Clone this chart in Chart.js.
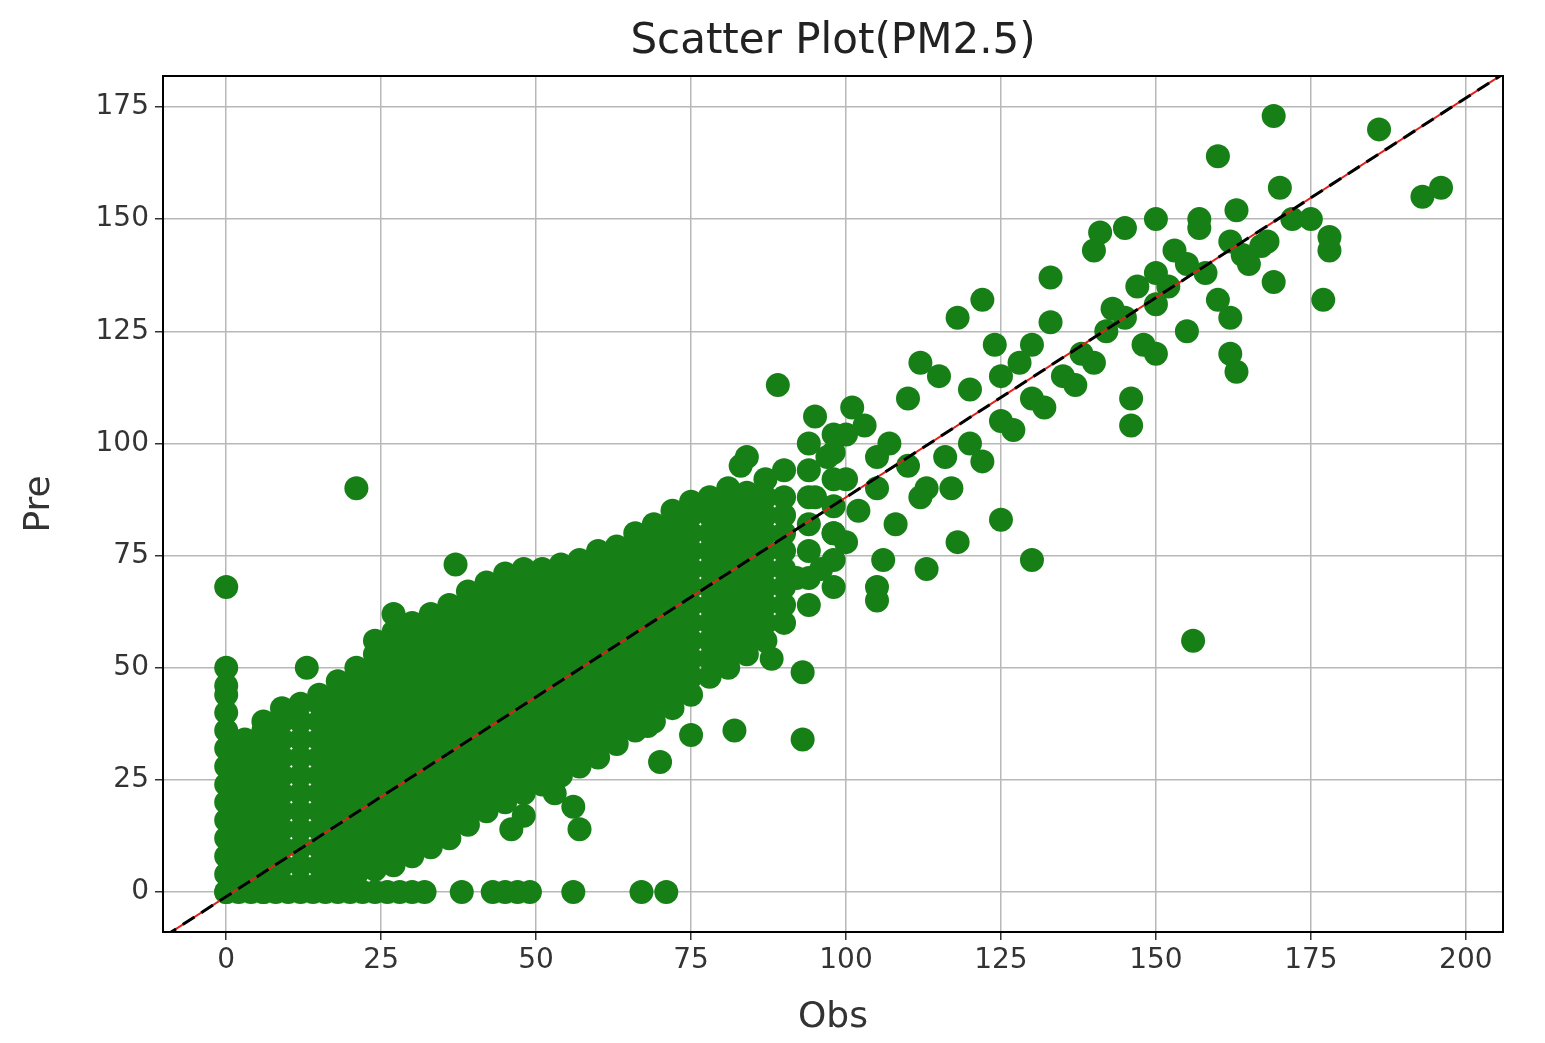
<!DOCTYPE html>
<html><head><meta charset="utf-8">
<script src="https://cdn.jsdelivr.net/npm/chart.js@4/dist/chart.umd.min.js"></script>
<style>html,body{margin:0;padding:0;background:#fff}#w{width:1545px;height:1043px}</style>
</head><body><div id="w"><canvas id="c"></canvas></div>
<script>
const bandX = [0,3,6,9,12,15,18,21,24,27,30,33,36,39,42,45,48,51,54,57,60,63,66,69,72,75,78,81,84,87,90,94,98];
const bandY = [
[0,4,8,12,16,20,24,28,32,36,40,44,46,50,68],
[2,6,10,14,18,22,26,30,34],
[0,4,8,12,16,20,24,28,32,36,38],
[2,6,10,14,18,22,26,30,34,38,41],
[2,6,10,14,18,22,26,30,34,38,42],
[2,6,10,14,18,22,26,30,34,38,42,44],
[3,7,11,15,19,23,27,31,35,39,43,47],
[4,8,12,16,20,24,28,32,36,40,44,48,50],
[5,9,13,17,21,25,29,33,37,41,45,49,53,56],
[6,10,14,18,22,26,30,34,38,42,46,50,54,58],
[8,12,16,20,24,28,32,36,40,44,48,52,56,60],
[10,14,18,22,26,30,34,38,42,46,50,54,58,62],
[12,16,20,24,28,32,36,40,44,48,52,56,60,64],
[15,19,23,27,31,35,39,43,47,51,55,59,63,67],
[18,22,26,30,34,38,42,46,50,54,58,62,66,69],
[20,24,28,32,36,40,44,48,52,56,60,64,68,71],
[22,26,30,34,38,42,46,50,54,58,62,66,70,72],
[24,28,32,36,40,44,48,52,56,60,64,68,72],
[26,30,34,38,42,46,50,54,58,62,66,70,73],
[28,32,36,40,44,48,52,56,60,64,68,72,74],
[30,34,38,42,46,50,54,58,62,66,70,74,76],
[33,37,41,45,49,53,57,61,65,69,73,77],
[36,40,44,48,52,56,60,64,68,72,76,80],
[38,42,46,50,54,58,62,66,70,74,78,82],
[41,45,49,53,57,61,65,69,73,77,81,85],
[44,48,52,56,60,64,68,72,76,80,84,87],
[48,52,56,60,64,68,72,76,80,84,88],
[50,54,58,62,66,70,74,78,82,86,90],
[53,57,61,65,69,73,77,81,85,89],
[56,60,64,68,72,76,80,84,88,92],
[60,64,68,72,76,80,84,88,94],
[64,70,76,82,88,94,100],
[68,74,80,86,92,98,102]
];
// Points with predicted value 0
const zeroRowX = [0,2,4,6,8,10,12,14,16,18,20,22,24,26,28,30,32,38,43,45,47,49,56,67,71];
// Scattered points [obs, pre]
const sparse = [[21,90],[13,50],[27,62],[37,73],[48,17],[46,14],[53,22],[56,19],[57,14],[68,37],[70,29],[75,35],[82,36],[83,95],[84,97],[93,34],[89,113],[93,49],[95,106],[101,108],[105,68],[106,74],[105,65],[113,72],[118,78],[125,83],[130,74],[156,56],[160,164],[169,173],[186,170],[193,155],[196,157],[177,132],[169,136],[163,116],[162,120],[146,104],[146,110],[157,150],[163,152],[167,144],[170,157],[175,150],[178,143],[178,146],[150,150],[150,131],[140,143],[141,147],[145,148],[118,128],[122,132],[124,122],[128,118],[133,137],[133,127],[112,118],[110,110],[115,115],[107,100],[103,104],[100,102],[97,97],[105,90],[110,95],[116,97],[120,100],[125,105],[130,110],[135,115],[138,120],[142,125],[145,128],[148,122],[150,120],[152,135],[155,140],[155,125],[158,138],[160,132],[162,128],[165,140],[168,145],[172,150],[112,88],[117,90],[122,96],[127,103],[132,108],[137,113],[140,118],[143,130],[147,135],[150,138],[153,143],[157,148],[162,145],[164,142],[120,112],[125,115],[130,122],[95,88],[100,92],[105,97],[98,80],[102,85],[108,82],[113,90],[96,72],[100,78],[92,70],[88,52]];
const fitLine = [[-10,-9.9],[210,185.9]];
const xTicks = [0,25,50,75,100,125,150,175,200];
const yTicks = [0,25,50,75,100,125,150,175];

const pts = [];
bandX.forEach((x,i)=>bandY[i].forEach(y=>pts.push({x:x,y:y})));
zeroRowX.forEach(x=>pts.push({x:x,y:0}));
sparse.forEach(p=>pts.push({x:p[0],y:p[1]}));
const line = fitLine.map(p=>({x:p[0],y:p[1]}));

const FONT='DejaVu Sans';
const titlePlugin={id:'tt',afterDraw(ch){const c=ch.ctx;c.save();c.font='42px '+FONT;c.fillStyle='#222';c.textAlign='center';c.textBaseline='middle';c.fillText('Scatter Plot(PM2.5)',(ch.chartArea.left+ch.chartArea.right)/2,42);
const a=ch.chartArea;c.strokeStyle='#000';c.lineWidth=2;c.strokeRect(a.left,a.top,a.right-a.left,a.bottom-a.top);c.restore();}};

new Chart(document.getElementById('c'),{
 data:{datasets:[
  {type:'line',data:line,borderColor:'#000',borderWidth:3,borderDash:[14,8],pointRadius:0,order:0},
  {type:'line',data:line,borderColor:'#e0201a',borderWidth:2,pointRadius:0,order:1},
  {type:'scatter',data:pts,backgroundColor:'rgb(22,128,22)',borderWidth:0,pointRadius:12,order:2}
 ]},
 options:{responsive:true,maintainAspectRatio:false,animation:false,
  layout:{padding:{top:76,right:42,left:14,bottom:0}},
  plugins:{legend:{display:false},tooltip:{enabled:false}},
  scales:{
   x:{type:'linear',min:-10.2,max:206,
    afterBuildTicks:s=>{s.ticks=xTicks.map(v=>({value:v}));},
    afterFit:s=>{s.height=111;},
    grid:{color:'#b8b8b8',lineWidth:1.5,tickLength:8,tickColor:'#333'},border:{color:'#000',width:2},
    ticks:{font:{family:FONT,size:28},color:'#333',padding:4},
    title:{display:true,text:'Obs',font:{family:FONT,size:36},color:'#333',padding:{top:0}}},
   y:{type:'linear',min:-8.9,max:181.9,
    afterBuildTicks:s=>{s.ticks=yTicks.map(v=>({value:v}));},
    afterFit:s=>{s.width=149;},
    grid:{color:'#b8b8b8',lineWidth:1.5,tickLength:8,tickColor:'#333'},border:{color:'#000',width:2},
    ticks:{font:{family:FONT,size:28},color:'#333',padding:6},
    title:{display:true,text:'Pre',font:{family:FONT,size:36},color:'#333',padding:{bottom:2}}}
  }},
 plugins:[titlePlugin]
});
</script></body></html>
